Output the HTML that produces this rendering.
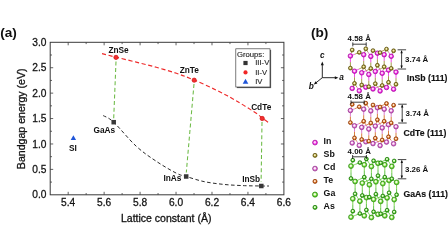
<!DOCTYPE html>
<html><head><meta charset="utf-8"><title>Bandgap vs lattice constant</title>
<style>html,body{margin:0;padding:0;background:#fff;}svg{display:block}</style></head>
<body><svg width="448" height="252" viewBox="0 0 448 252">
<rect width="448" height="252" fill="#fff"/>
<rect x="50.2" y="42.3" width="233.7" height="152.5" fill="none" stroke="#3a3a3a" stroke-width="1"/>
<path d="M68.18 194.8v-3.0M68.18 42.3v3.0M86.15 194.8v-1.8M86.15 42.3v1.8M104.13 194.8v-3.0M104.13 42.3v3.0M122.11 194.8v-1.8M122.11 42.3v1.8M140.08 194.8v-3.0M140.08 42.3v3.0M158.06 194.8v-1.8M158.06 42.3v1.8M176.04 194.8v-3.0M176.04 42.3v3.0M194.02 194.8v-1.8M194.02 42.3v1.8M211.99 194.8v-3.0M211.99 42.3v3.0M229.97 194.8v-1.8M229.97 42.3v1.8M247.95 194.8v-3.0M247.95 42.3v3.0M265.92 194.8v-1.8M265.92 42.3v1.8M50.2 182.09h1.8M283.9 182.09h-1.8M50.2 169.38h3.0M283.9 169.38h-3.0M50.2 156.68h1.8M283.9 156.68h-1.8M50.2 143.97h3.0M283.9 143.97h-3.0M50.2 131.26h1.8M283.9 131.26h-1.8M50.2 118.55h3.0M283.9 118.55h-3.0M50.2 105.84h1.8M283.9 105.84h-1.8M50.2 93.13h3.0M283.9 93.13h-3.0M50.2 80.43h1.8M283.9 80.43h-1.8M50.2 67.72h3.0M283.9 67.72h-3.0M50.2 55.01h1.8M283.9 55.01h-1.8" stroke="#3a3a3a" stroke-width="0.8" fill="none"/>
<g font-family="Liberation Sans, Arial, sans-serif" font-size="10.2" fill="#141414" stroke="#141414" stroke-width="0.28">
<text x="68.2" y="206.1" text-anchor="middle">5.4</text>
<text x="104.1" y="206.1" text-anchor="middle">5.6</text>
<text x="140.1" y="206.1" text-anchor="middle">5.8</text>
<text x="176.0" y="206.1" text-anchor="middle">6.0</text>
<text x="212.0" y="206.1" text-anchor="middle">6.2</text>
<text x="247.9" y="206.1" text-anchor="middle">6.4</text>
<text x="283.9" y="206.1" text-anchor="middle">6.6</text>
<text x="46.4" y="198.4" text-anchor="end">0.0</text>
<text x="46.4" y="173.0" text-anchor="end">0.5</text>
<text x="46.4" y="147.6" text-anchor="end">1.0</text>
<text x="46.4" y="122.2" text-anchor="end">1.5</text>
<text x="46.4" y="96.7" text-anchor="end">2.0</text>
<text x="46.4" y="71.3" text-anchor="end">2.5</text>
<text x="46.4" y="45.9" text-anchor="end">3.0</text>
</g>
<text x="166.2" y="222.3" text-anchor="middle" font-family="Liberation Sans, Arial, sans-serif" font-size="10.5" fill="#141414" stroke="#141414" stroke-width="0.3">Lattice constant (Å)</text>
<text transform="translate(24.6,118.8) rotate(-90)" text-anchor="middle" font-family="Liberation Sans, Arial, sans-serif" font-size="10.6" fill="#141414" stroke="#141414" stroke-width="0.3">Bandgap energy (eV)</text>
<text x="0.2" y="36.7" font-family="Liberation Sans, Arial, sans-serif" font-weight="bold" font-size="13.6" fill="#111">(a)</text>
<text x="311.0" y="37.1" font-family="Liberation Sans, Arial, sans-serif" font-weight="bold" font-size="13.6" fill="#111">(b)</text>
<path d="M102.0 53.6C104.3 54.2 110.3 55.8 116.0 57.2C121.7 58.6 129.5 60.4 136.2 62.1C142.9 63.8 149.6 65.4 156.3 67.3C163.0 69.2 170.1 71.2 176.4 73.3C182.7 75.4 187.3 77.2 194.0 80.0C200.7 82.8 209.4 86.7 216.5 90.2C223.6 93.7 229.9 97.1 236.6 101.0C243.3 104.9 252.5 110.8 256.7 113.6C260.9 116.4 259.9 116.4 262.0 118.0C264.1 119.6 268.2 122.3 269.5 123.2" fill="none" stroke="#ee2a2a" stroke-width="1.15" stroke-dasharray="4.2 2.6"/>
<path d="M103.2 115.6C105.0 116.7 108.2 117.1 113.7 122.2C119.2 127.3 129.1 139.7 136.2 146.2C143.3 152.7 149.6 156.8 156.3 161.3C163.0 165.8 171.4 170.7 176.4 173.2C181.4 175.7 181.5 175.1 186.2 176.5C190.9 177.9 198.1 180.4 204.5 181.7C210.9 183.0 217.9 183.8 224.6 184.5C231.3 185.2 238.6 185.4 244.7 185.7C250.8 185.9 257.2 185.9 261.3 186.0C265.4 186.1 267.7 186.0 269.0 186.0" fill="none" stroke="#2a2a2a" stroke-width="1.0" stroke-dasharray="3.6 2.4"/>
<path d="M116.0 61.5L113.7 118.5" stroke="#6cba45" stroke-width="1.05" stroke-dasharray="4 2.6" fill="none"/>
<path d="M194.0 84L186.3 172.5" stroke="#6cba45" stroke-width="1.05" stroke-dasharray="4 2.6" fill="none"/>
<path d="M262.0 122L261.1 182" stroke="#6cba45" stroke-width="1.05" stroke-dasharray="4 2.6" fill="none"/>
<circle cx="116.0" cy="57.4" r="2.15" fill="#f23030" stroke="#d01010" stroke-width="0.7"/>
<circle cx="194.2" cy="80.2" r="2.15" fill="#f23030" stroke="#d01010" stroke-width="0.7"/>
<circle cx="262.2" cy="118.5" r="2.15" fill="#f23030" stroke="#d01010" stroke-width="0.7"/>
<rect x="111.45" y="119.95" width="4.5" height="4.5" fill="#383838"/>
<rect x="183.95" y="174.25" width="4.5" height="4.5" fill="#383838"/>
<rect x="259.05" y="183.75" width="4.5" height="4.5" fill="#383838"/>
<path d="M73.4 135.3L76.10000000000001 140.1L70.7 140.1Z" fill="#1f55d8"/>
<g font-family="Liberation Sans, Arial, sans-serif" font-weight="bold" font-size="8.3" fill="#111">
<text x="118.6" y="52.5" text-anchor="middle">ZnSe</text>
<text x="189.3" y="72.9" text-anchor="middle">ZnTe</text>
<text x="261.2" y="109.8" text-anchor="middle">CdTe</text>
<text x="104.4" y="133.3" text-anchor="middle">GaAs</text>
<text x="172.5" y="181.2" text-anchor="middle">InAs</text>
<text x="251.2" y="182.1" text-anchor="middle">InSb</text>
<text x="73.0" y="151.1" text-anchor="middle">SI</text>
</g>
<rect x="236.9" y="49.9" width="34.2" height="38.2" fill="#555"/>
<rect x="235.8" y="48.8" width="34.2" height="38.2" fill="#fff" stroke="#444" stroke-width="0.7"/>
<g font-family="Liberation Sans, Arial, sans-serif" font-size="7.7" fill="#1c1c1c" stroke="#1c1c1c" stroke-width="0.12">
<text x="237.0" y="56.9">Groups:</text>
<text x="255.2" y="65.3">III-V</text>
<text x="255.2" y="74.6">II-V</text>
<text x="255.2" y="83.9">IV</text>
</g>
<rect x="243.4" y="60.9" width="4.2" height="4.2" fill="#333"/>
<circle cx="245.5" cy="72.4" r="2.1" fill="#f02626"/>
<path d="M245.5 78.8L248.3 83.7L242.7 83.7Z" fill="#1f55d8"/>
<g stroke="#111" stroke-width="0.9" fill="#111">
<path d="M322.3 77.7V63.5M322.3 77.7H336.5M322.3 77.7L315.2 83.4" fill="none"/>
<path d="M322.3 61.6L320.8 65.2H323.8Z" stroke="none"/>
<path d="M338.4 77.7L334.8 76.2V79.2Z" stroke="none"/>
<path d="M313.8 84.6L317.4 83.6L315.6 81.3Z" stroke="none"/>
</g>
<g font-family="Liberation Sans, Arial, sans-serif" font-weight="bold" font-style="italic" font-size="8.3" fill="#111" text-anchor="middle">
<text x="322.2" y="58.4">c</text><text x="341.6" y="80.2">a</text><text x="311.4" y="88.8">b</text>
</g>
<defs><radialGradient id="gIn" cx="0.46" cy="0.44" r="0.58"><stop offset="0" stop-color="#ffd6fb"/><stop offset="0.22" stop-color="#ffd6fb"/><stop offset="0.68" stop-color="#ea1cdc"/><stop offset="1" stop-color="#ea1cdc"/></radialGradient><radialGradient id="gSb" cx="0.46" cy="0.44" r="0.58"><stop offset="0" stop-color="#f4eeb8"/><stop offset="0.22" stop-color="#f4eeb8"/><stop offset="0.68" stop-color="#90801e"/><stop offset="1" stop-color="#90801e"/></radialGradient><radialGradient id="gCd" cx="0.46" cy="0.44" r="0.58"><stop offset="0" stop-color="#fff0fd"/><stop offset="0.22" stop-color="#fff0fd"/><stop offset="0.68" stop-color="#d25cc4"/><stop offset="1" stop-color="#d25cc4"/></radialGradient><radialGradient id="gTe" cx="0.46" cy="0.44" r="0.58"><stop offset="0" stop-color="#ffe6cc"/><stop offset="0.22" stop-color="#ffe6cc"/><stop offset="0.68" stop-color="#d0600e"/><stop offset="1" stop-color="#d0600e"/></radialGradient><radialGradient id="gGa" cx="0.46" cy="0.44" r="0.58"><stop offset="0" stop-color="#f2ffe0"/><stop offset="0.22" stop-color="#f2ffe0"/><stop offset="0.68" stop-color="#5ccc22"/><stop offset="1" stop-color="#5ccc22"/></radialGradient><radialGradient id="gAs" cx="0.46" cy="0.44" r="0.58"><stop offset="0" stop-color="#e6ffd0"/><stop offset="0.22" stop-color="#e6ffd0"/><stop offset="0.68" stop-color="#36b414"/><stop offset="1" stop-color="#36b414"/></radialGradient></defs>
<g><path d="M352.2 50.0L351.3 53.0" stroke="#90801e" stroke-width="0.7"/><path d="M351.3 53.0L350.4 56.0" stroke="#ea1cdc" stroke-width="0.7"/><path d="M359.3 52.4L354.9 54.2" stroke="#90801e" stroke-width="0.7"/><path d="M354.9 54.2L350.4 56.0" stroke="#ea1cdc" stroke-width="0.7"/><path d="M359.3 52.4L361.5 53.5" stroke="#90801e" stroke-width="0.7"/><path d="M361.5 53.5L363.7 54.7" stroke="#ea1cdc" stroke-width="0.7"/><path d="M365.8 48.8L364.8 51.8" stroke="#90801e" stroke-width="0.7"/><path d="M364.8 51.8L363.7 54.7" stroke="#ea1cdc" stroke-width="0.7"/><path d="M365.8 48.8L368.3 52.6" stroke="#90801e" stroke-width="0.7"/><path d="M368.3 52.6L370.8 56.4" stroke="#ea1cdc" stroke-width="0.7"/><path d="M373.0 50.6L371.9 53.5" stroke="#90801e" stroke-width="0.7"/><path d="M371.9 53.5L370.8 56.4" stroke="#ea1cdc" stroke-width="0.7"/><path d="M373.0 50.6L375.2 51.9" stroke="#90801e" stroke-width="0.7"/><path d="M375.2 51.9L377.4 53.2" stroke="#ea1cdc" stroke-width="0.7"/><path d="M380.1 52.6L378.8 52.9" stroke="#90801e" stroke-width="0.7"/><path d="M378.8 52.9L377.4 53.2" stroke="#ea1cdc" stroke-width="0.7"/><path d="M380.1 52.6L382.1 53.7" stroke="#90801e" stroke-width="0.7"/><path d="M382.1 53.7L384.2 54.7" stroke="#ea1cdc" stroke-width="0.7"/><path d="M386.5 49.1L381.9 51.2" stroke="#90801e" stroke-width="0.7"/><path d="M381.9 51.2L377.4 53.2" stroke="#ea1cdc" stroke-width="0.7"/><path d="M386.5 49.1L385.4 51.9" stroke="#90801e" stroke-width="0.7"/><path d="M385.4 51.9L384.2 54.7" stroke="#ea1cdc" stroke-width="0.7"/><path d="M386.5 49.1L388.9 52.7" stroke="#90801e" stroke-width="0.7"/><path d="M388.9 52.7L391.2 56.3" stroke="#ea1cdc" stroke-width="0.7"/><path d="M393.6 50.8L392.4 53.5" stroke="#90801e" stroke-width="0.7"/><path d="M392.4 53.5L391.2 56.3" stroke="#ea1cdc" stroke-width="0.7"/><path d="M350.4 56.0L350.4 62.1" stroke="#ea1cdc" stroke-width="0.8"/><path d="M350.4 62.1L350.4 68.1" stroke="#90801e" stroke-width="0.8"/><path d="M363.7 54.7L363.7 60.8" stroke="#ea1cdc" stroke-width="0.8"/><path d="M363.7 60.8L363.7 66.8" stroke="#90801e" stroke-width="0.8"/><path d="M370.8 56.4L370.8 62.5" stroke="#ea1cdc" stroke-width="0.8"/><path d="M370.8 62.5L370.8 68.5" stroke="#90801e" stroke-width="0.8"/><path d="M377.4 53.2L377.4 59.3" stroke="#ea1cdc" stroke-width="0.8"/><path d="M377.4 59.3L377.4 65.3" stroke="#90801e" stroke-width="0.8"/><path d="M384.2 54.7L384.2 60.8" stroke="#ea1cdc" stroke-width="0.8"/><path d="M384.2 60.8L384.2 66.8" stroke="#90801e" stroke-width="0.8"/><path d="M391.2 56.3L391.2 62.4" stroke="#ea1cdc" stroke-width="0.8"/><path d="M391.2 62.4L391.2 68.4" stroke="#90801e" stroke-width="0.8"/><path d="M350.4 68.1L352.4 69.7" stroke="#90801e" stroke-width="0.7"/><path d="M352.4 69.7L354.5 71.2" stroke="#ea1cdc" stroke-width="0.7"/><path d="M363.7 66.8L359.1 69.0" stroke="#90801e" stroke-width="0.7"/><path d="M359.1 69.0L354.5 71.2" stroke="#ea1cdc" stroke-width="0.7"/><path d="M363.7 66.8L362.7 69.8" stroke="#90801e" stroke-width="0.7"/><path d="M362.7 69.8L361.7 72.8" stroke="#ea1cdc" stroke-width="0.7"/><path d="M363.7 66.8L366.2 70.7" stroke="#90801e" stroke-width="0.7"/><path d="M366.2 70.7L368.8 74.5" stroke="#ea1cdc" stroke-width="0.7"/><path d="M370.8 68.5L366.2 70.7" stroke="#90801e" stroke-width="0.7"/><path d="M366.2 70.7L361.7 72.8" stroke="#ea1cdc" stroke-width="0.7"/><path d="M370.8 68.5L369.8 71.5" stroke="#90801e" stroke-width="0.7"/><path d="M369.8 71.5L368.8 74.5" stroke="#ea1cdc" stroke-width="0.7"/><path d="M370.8 68.5L373.1 70.0" stroke="#90801e" stroke-width="0.7"/><path d="M373.1 70.0L375.3 71.5" stroke="#ea1cdc" stroke-width="0.7"/><path d="M377.4 65.3L376.4 68.4" stroke="#90801e" stroke-width="0.7"/><path d="M376.4 68.4L375.3 71.5" stroke="#ea1cdc" stroke-width="0.7"/><path d="M377.4 65.3L379.8 69.3" stroke="#90801e" stroke-width="0.7"/><path d="M379.8 69.3L382.2 73.3" stroke="#ea1cdc" stroke-width="0.7"/><path d="M384.2 66.8L379.8 69.2" stroke="#90801e" stroke-width="0.7"/><path d="M379.8 69.2L375.3 71.5" stroke="#ea1cdc" stroke-width="0.7"/><path d="M384.2 66.8L383.2 70.1" stroke="#90801e" stroke-width="0.7"/><path d="M383.2 70.1L382.2 73.3" stroke="#ea1cdc" stroke-width="0.7"/><path d="M384.2 66.8L386.4 68.5" stroke="#90801e" stroke-width="0.7"/><path d="M386.4 68.5L388.5 70.1" stroke="#ea1cdc" stroke-width="0.7"/><path d="M391.2 68.4L386.7 70.9" stroke="#90801e" stroke-width="0.7"/><path d="M386.7 70.9L382.2 73.3" stroke="#ea1cdc" stroke-width="0.7"/><path d="M391.2 68.4L389.9 69.3" stroke="#90801e" stroke-width="0.7"/><path d="M389.9 69.3L388.5 70.1" stroke="#ea1cdc" stroke-width="0.7"/><path d="M391.2 68.4L393.6 70.3" stroke="#90801e" stroke-width="0.7"/><path d="M393.6 70.3L396.0 72.1" stroke="#ea1cdc" stroke-width="0.7"/><path d="M354.5 71.2L354.5 77.3" stroke="#ea1cdc" stroke-width="0.8"/><path d="M354.5 77.3L354.5 83.4" stroke="#90801e" stroke-width="0.8"/><path d="M361.7 72.8L361.7 78.9" stroke="#ea1cdc" stroke-width="0.8"/><path d="M361.7 78.9L361.7 85.0" stroke="#90801e" stroke-width="0.8"/><path d="M368.8 74.5L368.8 80.6" stroke="#ea1cdc" stroke-width="0.8"/><path d="M368.8 80.6L368.8 86.7" stroke="#90801e" stroke-width="0.8"/><path d="M375.3 71.5L375.3 77.6" stroke="#ea1cdc" stroke-width="0.8"/><path d="M375.3 77.6L375.3 83.7" stroke="#90801e" stroke-width="0.8"/><path d="M382.2 73.3L382.2 79.4" stroke="#ea1cdc" stroke-width="0.8"/><path d="M382.2 79.4L382.2 85.5" stroke="#90801e" stroke-width="0.8"/><path d="M388.5 70.1L388.5 76.2" stroke="#ea1cdc" stroke-width="0.8"/><path d="M388.5 76.2L388.5 82.3" stroke="#90801e" stroke-width="0.8"/><path d="M396.0 72.1L396.0 78.2" stroke="#ea1cdc" stroke-width="0.8"/><path d="M396.0 78.2L396.0 84.3" stroke="#90801e" stroke-width="0.8"/><path d="M354.5 83.4L353.4 85.9" stroke="#90801e" stroke-width="0.7"/><path d="M353.4 85.9L352.2 88.4" stroke="#ea1cdc" stroke-width="0.7"/><path d="M354.5 83.4L356.9 87.1" stroke="#90801e" stroke-width="0.7"/><path d="M356.9 87.1L359.3 90.8" stroke="#ea1cdc" stroke-width="0.7"/><path d="M361.7 85.0L360.5 87.9" stroke="#90801e" stroke-width="0.7"/><path d="M360.5 87.9L359.3 90.8" stroke="#ea1cdc" stroke-width="0.7"/><path d="M361.7 85.0L363.8 86.1" stroke="#90801e" stroke-width="0.7"/><path d="M363.8 86.1L365.8 87.2" stroke="#ea1cdc" stroke-width="0.7"/><path d="M368.8 86.7L367.3 87.0" stroke="#90801e" stroke-width="0.7"/><path d="M367.3 87.0L365.8 87.2" stroke="#ea1cdc" stroke-width="0.7"/><path d="M368.8 86.7L370.9 87.8" stroke="#90801e" stroke-width="0.7"/><path d="M370.9 87.8L373.0 89.0" stroke="#ea1cdc" stroke-width="0.7"/><path d="M375.3 83.7L374.1 86.3" stroke="#90801e" stroke-width="0.7"/><path d="M374.1 86.3L373.0 89.0" stroke="#ea1cdc" stroke-width="0.7"/><path d="M375.3 83.7L377.7 87.3" stroke="#90801e" stroke-width="0.7"/><path d="M377.7 87.3L380.1 91.0" stroke="#ea1cdc" stroke-width="0.7"/><path d="M382.2 85.5L377.6 87.2" stroke="#90801e" stroke-width="0.7"/><path d="M377.6 87.2L373.0 89.0" stroke="#ea1cdc" stroke-width="0.7"/><path d="M382.2 85.5L381.1 88.2" stroke="#90801e" stroke-width="0.7"/><path d="M381.1 88.2L380.1 91.0" stroke="#ea1cdc" stroke-width="0.7"/><path d="M382.2 85.5L384.4 86.5" stroke="#90801e" stroke-width="0.7"/><path d="M384.4 86.5L386.5 87.5" stroke="#ea1cdc" stroke-width="0.7"/><path d="M388.5 82.3L387.5 84.9" stroke="#90801e" stroke-width="0.7"/><path d="M387.5 84.9L386.5 87.5" stroke="#ea1cdc" stroke-width="0.7"/><path d="M388.5 82.3L391.1 85.8" stroke="#90801e" stroke-width="0.7"/><path d="M391.1 85.8L393.6 89.2" stroke="#ea1cdc" stroke-width="0.7"/><path d="M396.0 84.3L394.8 86.8" stroke="#90801e" stroke-width="0.7"/><path d="M394.8 86.8L393.6 89.2" stroke="#ea1cdc" stroke-width="0.7"/><circle cx="377.4" cy="53.2" r="2.30" fill="url(#gIn)" stroke="#a40a9c" stroke-width="0.7"/><circle cx="365.8" cy="48.8" r="1.95" fill="url(#gSb)" stroke="#5a4e0c" stroke-width="0.7"/><circle cx="386.5" cy="49.1" r="1.95" fill="url(#gSb)" stroke="#5a4e0c" stroke-width="0.7"/><circle cx="352.2" cy="50.0" r="1.95" fill="url(#gSb)" stroke="#5a4e0c" stroke-width="0.7"/><circle cx="363.7" cy="54.7" r="2.30" fill="url(#gIn)" stroke="#a40a9c" stroke-width="0.7"/><circle cx="384.2" cy="54.7" r="2.30" fill="url(#gIn)" stroke="#a40a9c" stroke-width="0.7"/><circle cx="373.0" cy="50.6" r="1.95" fill="url(#gSb)" stroke="#5a4e0c" stroke-width="0.7"/><circle cx="393.6" cy="50.8" r="1.95" fill="url(#gSb)" stroke="#5a4e0c" stroke-width="0.7"/><circle cx="350.4" cy="56.0" r="2.30" fill="url(#gIn)" stroke="#a40a9c" stroke-width="0.7"/><circle cx="391.2" cy="56.3" r="2.30" fill="url(#gIn)" stroke="#a40a9c" stroke-width="0.7"/><circle cx="370.8" cy="56.4" r="2.30" fill="url(#gIn)" stroke="#a40a9c" stroke-width="0.7"/><circle cx="359.3" cy="52.4" r="1.95" fill="url(#gSb)" stroke="#5a4e0c" stroke-width="0.7"/><circle cx="380.1" cy="52.6" r="1.95" fill="url(#gSb)" stroke="#5a4e0c" stroke-width="0.7"/><circle cx="377.4" cy="65.3" r="1.95" fill="url(#gSb)" stroke="#5a4e0c" stroke-width="0.7"/><circle cx="388.5" cy="70.1" r="2.30" fill="url(#gIn)" stroke="#a40a9c" stroke-width="0.7"/><circle cx="354.5" cy="71.2" r="2.30" fill="url(#gIn)" stroke="#a40a9c" stroke-width="0.7"/><circle cx="363.7" cy="66.8" r="1.95" fill="url(#gSb)" stroke="#5a4e0c" stroke-width="0.7"/><circle cx="384.2" cy="66.8" r="1.95" fill="url(#gSb)" stroke="#5a4e0c" stroke-width="0.7"/><circle cx="375.3" cy="71.5" r="2.30" fill="url(#gIn)" stroke="#a40a9c" stroke-width="0.7"/><circle cx="396.0" cy="72.1" r="2.30" fill="url(#gIn)" stroke="#a40a9c" stroke-width="0.7"/><circle cx="350.4" cy="68.1" r="1.95" fill="url(#gSb)" stroke="#5a4e0c" stroke-width="0.7"/><circle cx="361.7" cy="72.8" r="2.30" fill="url(#gIn)" stroke="#a40a9c" stroke-width="0.7"/><circle cx="391.2" cy="68.4" r="1.95" fill="url(#gSb)" stroke="#5a4e0c" stroke-width="0.7"/><circle cx="370.8" cy="68.5" r="1.95" fill="url(#gSb)" stroke="#5a4e0c" stroke-width="0.7"/><circle cx="382.2" cy="73.3" r="2.30" fill="url(#gIn)" stroke="#a40a9c" stroke-width="0.7"/><circle cx="368.8" cy="74.5" r="2.30" fill="url(#gIn)" stroke="#a40a9c" stroke-width="0.7"/><circle cx="388.5" cy="82.3" r="1.95" fill="url(#gSb)" stroke="#5a4e0c" stroke-width="0.7"/><circle cx="365.8" cy="87.2" r="2.30" fill="url(#gIn)" stroke="#a40a9c" stroke-width="0.7"/><circle cx="386.5" cy="87.5" r="2.30" fill="url(#gIn)" stroke="#a40a9c" stroke-width="0.7"/><circle cx="354.5" cy="83.4" r="1.95" fill="url(#gSb)" stroke="#5a4e0c" stroke-width="0.7"/><circle cx="375.3" cy="83.7" r="1.95" fill="url(#gSb)" stroke="#5a4e0c" stroke-width="0.7"/><circle cx="352.2" cy="88.4" r="2.30" fill="url(#gIn)" stroke="#a40a9c" stroke-width="0.7"/><circle cx="396.0" cy="84.3" r="1.95" fill="url(#gSb)" stroke="#5a4e0c" stroke-width="0.7"/><circle cx="373.0" cy="89.0" r="2.30" fill="url(#gIn)" stroke="#a40a9c" stroke-width="0.7"/><circle cx="393.6" cy="89.2" r="2.30" fill="url(#gIn)" stroke="#a40a9c" stroke-width="0.7"/><circle cx="361.7" cy="85.0" r="1.95" fill="url(#gSb)" stroke="#5a4e0c" stroke-width="0.7"/><circle cx="382.2" cy="85.5" r="1.95" fill="url(#gSb)" stroke="#5a4e0c" stroke-width="0.7"/><circle cx="359.3" cy="90.8" r="2.30" fill="url(#gIn)" stroke="#a40a9c" stroke-width="0.7"/><circle cx="380.1" cy="91.0" r="2.30" fill="url(#gIn)" stroke="#a40a9c" stroke-width="0.7"/><circle cx="368.8" cy="86.7" r="1.95" fill="url(#gSb)" stroke="#5a4e0c" stroke-width="0.7"/></g>
<g><path d="M352.2 104.4L351.3 107.5" stroke="#d0600e" stroke-width="0.7"/><path d="M351.3 107.5L350.4 110.5" stroke="#d25cc4" stroke-width="0.7"/><path d="M359.3 106.8L354.9 108.7" stroke="#d0600e" stroke-width="0.7"/><path d="M354.9 108.7L350.4 110.5" stroke="#d25cc4" stroke-width="0.7"/><path d="M359.3 106.8L361.5 108.0" stroke="#d0600e" stroke-width="0.7"/><path d="M361.5 108.0L363.7 109.2" stroke="#d25cc4" stroke-width="0.7"/><path d="M365.8 103.2L364.8 106.2" stroke="#d0600e" stroke-width="0.7"/><path d="M364.8 106.2L363.7 109.2" stroke="#d25cc4" stroke-width="0.7"/><path d="M365.8 103.2L368.3 107.1" stroke="#d0600e" stroke-width="0.7"/><path d="M368.3 107.1L370.8 110.9" stroke="#d25cc4" stroke-width="0.7"/><path d="M373.0 105.0L371.9 108.0" stroke="#d0600e" stroke-width="0.7"/><path d="M371.9 108.0L370.8 110.9" stroke="#d25cc4" stroke-width="0.7"/><path d="M373.0 105.0L375.2 106.3" stroke="#d0600e" stroke-width="0.7"/><path d="M375.2 106.3L377.4 107.7" stroke="#d25cc4" stroke-width="0.7"/><path d="M380.1 107.0L378.8 107.3" stroke="#d0600e" stroke-width="0.7"/><path d="M378.8 107.3L377.4 107.7" stroke="#d25cc4" stroke-width="0.7"/><path d="M380.1 107.0L382.1 108.1" stroke="#d0600e" stroke-width="0.7"/><path d="M382.1 108.1L384.2 109.2" stroke="#d25cc4" stroke-width="0.7"/><path d="M386.5 103.5L381.9 105.6" stroke="#d0600e" stroke-width="0.7"/><path d="M381.9 105.6L377.4 107.7" stroke="#d25cc4" stroke-width="0.7"/><path d="M386.5 103.5L385.4 106.3" stroke="#d0600e" stroke-width="0.7"/><path d="M385.4 106.3L384.2 109.2" stroke="#d25cc4" stroke-width="0.7"/><path d="M386.5 103.5L388.9 107.2" stroke="#d0600e" stroke-width="0.7"/><path d="M388.9 107.2L391.2 110.8" stroke="#d25cc4" stroke-width="0.7"/><path d="M393.6 105.2L392.4 108.0" stroke="#d0600e" stroke-width="0.7"/><path d="M392.4 108.0L391.2 110.8" stroke="#d25cc4" stroke-width="0.7"/><path d="M350.4 110.5L350.4 116.6" stroke="#d25cc4" stroke-width="0.8"/><path d="M350.4 116.6L350.4 122.6" stroke="#d0600e" stroke-width="0.8"/><path d="M363.7 109.2L363.7 115.2" stroke="#d25cc4" stroke-width="0.8"/><path d="M363.7 115.2L363.7 121.3" stroke="#d0600e" stroke-width="0.8"/><path d="M370.8 110.9L370.8 117.0" stroke="#d25cc4" stroke-width="0.8"/><path d="M370.8 117.0L370.8 123.0" stroke="#d0600e" stroke-width="0.8"/><path d="M377.4 107.7L377.4 113.8" stroke="#d25cc4" stroke-width="0.8"/><path d="M377.4 113.8L377.4 119.8" stroke="#d0600e" stroke-width="0.8"/><path d="M384.2 109.2L384.2 115.2" stroke="#d25cc4" stroke-width="0.8"/><path d="M384.2 115.2L384.2 121.3" stroke="#d0600e" stroke-width="0.8"/><path d="M391.2 110.8L391.2 116.8" stroke="#d25cc4" stroke-width="0.8"/><path d="M391.2 116.8L391.2 122.9" stroke="#d0600e" stroke-width="0.8"/><path d="M350.4 122.6L352.4 124.2" stroke="#d0600e" stroke-width="0.7"/><path d="M352.4 124.2L354.5 125.8" stroke="#d25cc4" stroke-width="0.7"/><path d="M363.7 121.3L359.1 123.6" stroke="#d0600e" stroke-width="0.7"/><path d="M359.1 123.6L354.5 125.8" stroke="#d25cc4" stroke-width="0.7"/><path d="M363.7 121.3L362.7 124.4" stroke="#d0600e" stroke-width="0.7"/><path d="M362.7 124.4L361.7 127.4" stroke="#d25cc4" stroke-width="0.7"/><path d="M363.7 121.3L366.2 125.2" stroke="#d0600e" stroke-width="0.7"/><path d="M366.2 125.2L368.8 129.1" stroke="#d25cc4" stroke-width="0.7"/><path d="M370.8 123.0L366.2 125.2" stroke="#d0600e" stroke-width="0.7"/><path d="M366.2 125.2L361.7 127.4" stroke="#d25cc4" stroke-width="0.7"/><path d="M370.8 123.0L369.8 126.1" stroke="#d0600e" stroke-width="0.7"/><path d="M369.8 126.1L368.8 129.1" stroke="#d25cc4" stroke-width="0.7"/><path d="M370.8 123.0L373.1 124.6" stroke="#d0600e" stroke-width="0.7"/><path d="M373.1 124.6L375.3 126.1" stroke="#d25cc4" stroke-width="0.7"/><path d="M377.4 119.8L376.4 123.0" stroke="#d0600e" stroke-width="0.7"/><path d="M376.4 123.0L375.3 126.1" stroke="#d25cc4" stroke-width="0.7"/><path d="M377.4 119.8L379.8 123.9" stroke="#d0600e" stroke-width="0.7"/><path d="M379.8 123.9L382.2 127.9" stroke="#d25cc4" stroke-width="0.7"/><path d="M384.2 121.3L379.8 123.7" stroke="#d0600e" stroke-width="0.7"/><path d="M379.8 123.7L375.3 126.1" stroke="#d25cc4" stroke-width="0.7"/><path d="M384.2 121.3L383.2 124.6" stroke="#d0600e" stroke-width="0.7"/><path d="M383.2 124.6L382.2 127.9" stroke="#d25cc4" stroke-width="0.7"/><path d="M384.2 121.3L386.4 123.0" stroke="#d0600e" stroke-width="0.7"/><path d="M386.4 123.0L388.5 124.7" stroke="#d25cc4" stroke-width="0.7"/><path d="M391.2 122.9L386.7 125.4" stroke="#d0600e" stroke-width="0.7"/><path d="M386.7 125.4L382.2 127.9" stroke="#d25cc4" stroke-width="0.7"/><path d="M391.2 122.9L389.9 123.8" stroke="#d0600e" stroke-width="0.7"/><path d="M389.9 123.8L388.5 124.7" stroke="#d25cc4" stroke-width="0.7"/><path d="M391.2 122.9L393.6 124.8" stroke="#d0600e" stroke-width="0.7"/><path d="M393.6 124.8L396.0 126.7" stroke="#d25cc4" stroke-width="0.7"/><path d="M354.5 125.8L354.5 131.8" stroke="#d25cc4" stroke-width="0.8"/><path d="M354.5 131.8L354.5 137.9" stroke="#d0600e" stroke-width="0.8"/><path d="M361.7 127.4L361.7 133.4" stroke="#d25cc4" stroke-width="0.8"/><path d="M361.7 133.4L361.7 139.5" stroke="#d0600e" stroke-width="0.8"/><path d="M368.8 129.1L368.8 135.2" stroke="#d25cc4" stroke-width="0.8"/><path d="M368.8 135.2L368.8 141.2" stroke="#d0600e" stroke-width="0.8"/><path d="M375.3 126.1L375.3 132.2" stroke="#d25cc4" stroke-width="0.8"/><path d="M375.3 132.2L375.3 138.2" stroke="#d0600e" stroke-width="0.8"/><path d="M382.2 127.9L382.2 133.9" stroke="#d25cc4" stroke-width="0.8"/><path d="M382.2 133.9L382.2 140.0" stroke="#d0600e" stroke-width="0.8"/><path d="M388.5 124.7L388.5 130.8" stroke="#d25cc4" stroke-width="0.8"/><path d="M388.5 130.8L388.5 136.8" stroke="#d0600e" stroke-width="0.8"/><path d="M396.0 126.7L396.0 132.8" stroke="#d25cc4" stroke-width="0.8"/><path d="M396.0 132.8L396.0 138.8" stroke="#d0600e" stroke-width="0.8"/><path d="M354.5 137.9L353.4 140.4" stroke="#d0600e" stroke-width="0.7"/><path d="M353.4 140.4L352.2 143.0" stroke="#d25cc4" stroke-width="0.7"/><path d="M354.5 137.9L356.9 141.6" stroke="#d0600e" stroke-width="0.7"/><path d="M356.9 141.6L359.3 145.4" stroke="#d25cc4" stroke-width="0.7"/><path d="M361.7 139.5L360.5 142.4" stroke="#d0600e" stroke-width="0.7"/><path d="M360.5 142.4L359.3 145.4" stroke="#d25cc4" stroke-width="0.7"/><path d="M361.7 139.5L363.8 140.7" stroke="#d0600e" stroke-width="0.7"/><path d="M363.8 140.7L365.8 141.8" stroke="#d25cc4" stroke-width="0.7"/><path d="M368.8 141.2L367.3 141.5" stroke="#d0600e" stroke-width="0.7"/><path d="M367.3 141.5L365.8 141.8" stroke="#d25cc4" stroke-width="0.7"/><path d="M368.8 141.2L370.9 142.4" stroke="#d0600e" stroke-width="0.7"/><path d="M370.9 142.4L373.0 143.6" stroke="#d25cc4" stroke-width="0.7"/><path d="M375.3 138.2L374.1 140.9" stroke="#d0600e" stroke-width="0.7"/><path d="M374.1 140.9L373.0 143.6" stroke="#d25cc4" stroke-width="0.7"/><path d="M375.3 138.2L377.7 141.9" stroke="#d0600e" stroke-width="0.7"/><path d="M377.7 141.9L380.1 145.6" stroke="#d25cc4" stroke-width="0.7"/><path d="M382.2 140.0L377.6 141.8" stroke="#d0600e" stroke-width="0.7"/><path d="M377.6 141.8L373.0 143.6" stroke="#d25cc4" stroke-width="0.7"/><path d="M382.2 140.0L381.1 142.8" stroke="#d0600e" stroke-width="0.7"/><path d="M381.1 142.8L380.1 145.6" stroke="#d25cc4" stroke-width="0.7"/><path d="M382.2 140.0L384.4 141.1" stroke="#d0600e" stroke-width="0.7"/><path d="M384.4 141.1L386.5 142.1" stroke="#d25cc4" stroke-width="0.7"/><path d="M388.5 136.8L387.5 139.4" stroke="#d0600e" stroke-width="0.7"/><path d="M387.5 139.4L386.5 142.1" stroke="#d25cc4" stroke-width="0.7"/><path d="M388.5 136.8L391.1 140.3" stroke="#d0600e" stroke-width="0.7"/><path d="M391.1 140.3L393.6 143.8" stroke="#d25cc4" stroke-width="0.7"/><path d="M396.0 138.8L394.8 141.3" stroke="#d0600e" stroke-width="0.7"/><path d="M394.8 141.3L393.6 143.8" stroke="#d25cc4" stroke-width="0.7"/><circle cx="377.4" cy="107.7" r="2.30" fill="url(#gCd)" stroke="#8e2e86" stroke-width="0.7"/><circle cx="365.8" cy="103.2" r="1.95" fill="url(#gTe)" stroke="#8a3404" stroke-width="0.7"/><circle cx="386.5" cy="103.5" r="1.95" fill="url(#gTe)" stroke="#8a3404" stroke-width="0.7"/><circle cx="352.2" cy="104.4" r="1.95" fill="url(#gTe)" stroke="#8a3404" stroke-width="0.7"/><circle cx="363.7" cy="109.2" r="2.30" fill="url(#gCd)" stroke="#8e2e86" stroke-width="0.7"/><circle cx="384.2" cy="109.2" r="2.30" fill="url(#gCd)" stroke="#8e2e86" stroke-width="0.7"/><circle cx="373.0" cy="105.0" r="1.95" fill="url(#gTe)" stroke="#8a3404" stroke-width="0.7"/><circle cx="393.6" cy="105.2" r="1.95" fill="url(#gTe)" stroke="#8a3404" stroke-width="0.7"/><circle cx="350.4" cy="110.5" r="2.30" fill="url(#gCd)" stroke="#8e2e86" stroke-width="0.7"/><circle cx="391.2" cy="110.8" r="2.30" fill="url(#gCd)" stroke="#8e2e86" stroke-width="0.7"/><circle cx="370.8" cy="110.9" r="2.30" fill="url(#gCd)" stroke="#8e2e86" stroke-width="0.7"/><circle cx="359.3" cy="106.8" r="1.95" fill="url(#gTe)" stroke="#8a3404" stroke-width="0.7"/><circle cx="380.1" cy="107.0" r="1.95" fill="url(#gTe)" stroke="#8a3404" stroke-width="0.7"/><circle cx="377.4" cy="119.8" r="1.95" fill="url(#gTe)" stroke="#8a3404" stroke-width="0.7"/><circle cx="388.5" cy="124.7" r="2.30" fill="url(#gCd)" stroke="#8e2e86" stroke-width="0.7"/><circle cx="354.5" cy="125.8" r="2.30" fill="url(#gCd)" stroke="#8e2e86" stroke-width="0.7"/><circle cx="363.7" cy="121.3" r="1.95" fill="url(#gTe)" stroke="#8a3404" stroke-width="0.7"/><circle cx="384.2" cy="121.3" r="1.95" fill="url(#gTe)" stroke="#8a3404" stroke-width="0.7"/><circle cx="375.3" cy="126.1" r="2.30" fill="url(#gCd)" stroke="#8e2e86" stroke-width="0.7"/><circle cx="396.0" cy="126.7" r="2.30" fill="url(#gCd)" stroke="#8e2e86" stroke-width="0.7"/><circle cx="350.4" cy="122.6" r="1.95" fill="url(#gTe)" stroke="#8a3404" stroke-width="0.7"/><circle cx="361.7" cy="127.4" r="2.30" fill="url(#gCd)" stroke="#8e2e86" stroke-width="0.7"/><circle cx="391.2" cy="122.9" r="1.95" fill="url(#gTe)" stroke="#8a3404" stroke-width="0.7"/><circle cx="370.8" cy="123.0" r="1.95" fill="url(#gTe)" stroke="#8a3404" stroke-width="0.7"/><circle cx="382.2" cy="127.9" r="2.30" fill="url(#gCd)" stroke="#8e2e86" stroke-width="0.7"/><circle cx="368.8" cy="129.1" r="2.30" fill="url(#gCd)" stroke="#8e2e86" stroke-width="0.7"/><circle cx="388.5" cy="136.8" r="1.95" fill="url(#gTe)" stroke="#8a3404" stroke-width="0.7"/><circle cx="365.8" cy="141.8" r="2.30" fill="url(#gCd)" stroke="#8e2e86" stroke-width="0.7"/><circle cx="386.5" cy="142.1" r="2.30" fill="url(#gCd)" stroke="#8e2e86" stroke-width="0.7"/><circle cx="354.5" cy="137.9" r="1.95" fill="url(#gTe)" stroke="#8a3404" stroke-width="0.7"/><circle cx="375.3" cy="138.2" r="1.95" fill="url(#gTe)" stroke="#8a3404" stroke-width="0.7"/><circle cx="352.2" cy="143.0" r="2.30" fill="url(#gCd)" stroke="#8e2e86" stroke-width="0.7"/><circle cx="396.0" cy="138.8" r="1.95" fill="url(#gTe)" stroke="#8a3404" stroke-width="0.7"/><circle cx="373.0" cy="143.6" r="2.30" fill="url(#gCd)" stroke="#8e2e86" stroke-width="0.7"/><circle cx="393.6" cy="143.8" r="2.30" fill="url(#gCd)" stroke="#8e2e86" stroke-width="0.7"/><circle cx="361.7" cy="139.5" r="1.95" fill="url(#gTe)" stroke="#8a3404" stroke-width="0.7"/><circle cx="382.2" cy="140.0" r="1.95" fill="url(#gTe)" stroke="#8a3404" stroke-width="0.7"/><circle cx="359.3" cy="145.4" r="2.30" fill="url(#gCd)" stroke="#8e2e86" stroke-width="0.7"/><circle cx="380.1" cy="145.6" r="2.30" fill="url(#gCd)" stroke="#8e2e86" stroke-width="0.7"/><circle cx="368.8" cy="141.2" r="1.95" fill="url(#gTe)" stroke="#8a3404" stroke-width="0.7"/></g>
<g><path d="M352.8 160.2L351.9 163.1" stroke="#36b414" stroke-width="0.7"/><path d="M351.9 163.1L351.0 166.1" stroke="#5ccc22" stroke-width="0.7"/><path d="M359.9 162.6L355.5 164.3" stroke="#36b414" stroke-width="0.7"/><path d="M355.5 164.3L351.0 166.1" stroke="#5ccc22" stroke-width="0.7"/><path d="M359.9 162.6L362.1 163.7" stroke="#36b414" stroke-width="0.7"/><path d="M362.1 163.7L364.3 164.8" stroke="#5ccc22" stroke-width="0.7"/><path d="M366.4 159.0L365.4 161.9" stroke="#36b414" stroke-width="0.7"/><path d="M365.4 161.9L364.3 164.8" stroke="#5ccc22" stroke-width="0.7"/><path d="M366.4 159.0L368.9 162.8" stroke="#36b414" stroke-width="0.7"/><path d="M368.9 162.8L371.4 166.5" stroke="#5ccc22" stroke-width="0.7"/><path d="M373.6 160.8L372.5 163.6" stroke="#36b414" stroke-width="0.7"/><path d="M372.5 163.6L371.4 166.5" stroke="#5ccc22" stroke-width="0.7"/><path d="M373.6 160.8L375.8 162.0" stroke="#36b414" stroke-width="0.7"/><path d="M375.8 162.0L378.0 163.3" stroke="#5ccc22" stroke-width="0.7"/><path d="M380.7 162.8L379.4 163.0" stroke="#36b414" stroke-width="0.7"/><path d="M379.4 163.0L378.0 163.3" stroke="#5ccc22" stroke-width="0.7"/><path d="M380.7 162.8L382.8 163.8" stroke="#36b414" stroke-width="0.7"/><path d="M382.8 163.8L384.8 164.8" stroke="#5ccc22" stroke-width="0.7"/><path d="M387.1 159.3L382.6 161.3" stroke="#36b414" stroke-width="0.7"/><path d="M382.6 161.3L378.0 163.3" stroke="#5ccc22" stroke-width="0.7"/><path d="M387.1 159.3L386.0 162.0" stroke="#36b414" stroke-width="0.7"/><path d="M386.0 162.0L384.8 164.8" stroke="#5ccc22" stroke-width="0.7"/><path d="M387.1 159.3L389.5 162.8" stroke="#36b414" stroke-width="0.7"/><path d="M389.5 162.8L391.8 166.4" stroke="#5ccc22" stroke-width="0.7"/><path d="M394.2 161.0L393.0 163.7" stroke="#36b414" stroke-width="0.7"/><path d="M393.0 163.7L391.8 166.4" stroke="#5ccc22" stroke-width="0.7"/><path d="M351.0 166.1L351.0 172.3" stroke="#5ccc22" stroke-width="0.8"/><path d="M351.0 172.3L351.0 178.5" stroke="#36b414" stroke-width="0.8"/><path d="M364.3 164.8L364.3 171.0" stroke="#5ccc22" stroke-width="0.8"/><path d="M364.3 171.0L364.3 177.2" stroke="#36b414" stroke-width="0.8"/><path d="M371.4 166.5L371.4 172.7" stroke="#5ccc22" stroke-width="0.8"/><path d="M371.4 172.7L371.4 178.9" stroke="#36b414" stroke-width="0.8"/><path d="M378.0 163.3L378.0 169.5" stroke="#5ccc22" stroke-width="0.8"/><path d="M378.0 169.5L378.0 175.7" stroke="#36b414" stroke-width="0.8"/><path d="M384.8 164.8L384.8 171.0" stroke="#5ccc22" stroke-width="0.8"/><path d="M384.8 171.0L384.8 177.2" stroke="#36b414" stroke-width="0.8"/><path d="M391.8 166.4L391.8 172.6" stroke="#5ccc22" stroke-width="0.8"/><path d="M391.8 172.6L391.8 178.8" stroke="#36b414" stroke-width="0.8"/><path d="M351.0 178.5L353.1 180.0" stroke="#36b414" stroke-width="0.7"/><path d="M353.1 180.0L355.1 181.5" stroke="#5ccc22" stroke-width="0.7"/><path d="M364.3 177.2L359.7 179.3" stroke="#36b414" stroke-width="0.7"/><path d="M359.7 179.3L355.1 181.5" stroke="#5ccc22" stroke-width="0.7"/><path d="M364.3 177.2L363.3 180.1" stroke="#36b414" stroke-width="0.7"/><path d="M363.3 180.1L362.3 183.1" stroke="#5ccc22" stroke-width="0.7"/><path d="M364.3 177.2L366.9 181.0" stroke="#36b414" stroke-width="0.7"/><path d="M366.9 181.0L369.4 184.8" stroke="#5ccc22" stroke-width="0.7"/><path d="M371.4 178.9L366.9 181.0" stroke="#36b414" stroke-width="0.7"/><path d="M366.9 181.0L362.3 183.1" stroke="#5ccc22" stroke-width="0.7"/><path d="M371.4 178.9L370.4 181.8" stroke="#36b414" stroke-width="0.7"/><path d="M370.4 181.8L369.4 184.8" stroke="#5ccc22" stroke-width="0.7"/><path d="M371.4 178.9L373.7 180.3" stroke="#36b414" stroke-width="0.7"/><path d="M373.7 180.3L375.9 181.8" stroke="#5ccc22" stroke-width="0.7"/><path d="M378.0 175.7L377.0 178.8" stroke="#36b414" stroke-width="0.7"/><path d="M377.0 178.8L375.9 181.8" stroke="#5ccc22" stroke-width="0.7"/><path d="M378.0 175.7L380.4 179.6" stroke="#36b414" stroke-width="0.7"/><path d="M380.4 179.6L382.8 183.6" stroke="#5ccc22" stroke-width="0.7"/><path d="M384.8 177.2L380.4 179.5" stroke="#36b414" stroke-width="0.7"/><path d="M380.4 179.5L375.9 181.8" stroke="#5ccc22" stroke-width="0.7"/><path d="M384.8 177.2L383.8 180.4" stroke="#36b414" stroke-width="0.7"/><path d="M383.8 180.4L382.8 183.6" stroke="#5ccc22" stroke-width="0.7"/><path d="M384.8 177.2L387.0 178.8" stroke="#36b414" stroke-width="0.7"/><path d="M387.0 178.8L389.1 180.4" stroke="#5ccc22" stroke-width="0.7"/><path d="M391.8 178.8L387.3 181.2" stroke="#36b414" stroke-width="0.7"/><path d="M387.3 181.2L382.8 183.6" stroke="#5ccc22" stroke-width="0.7"/><path d="M391.8 178.8L390.5 179.6" stroke="#36b414" stroke-width="0.7"/><path d="M390.5 179.6L389.1 180.4" stroke="#5ccc22" stroke-width="0.7"/><path d="M391.8 178.8L394.2 180.6" stroke="#36b414" stroke-width="0.7"/><path d="M394.2 180.6L396.6 182.4" stroke="#5ccc22" stroke-width="0.7"/><path d="M355.1 181.5L355.1 187.7" stroke="#5ccc22" stroke-width="0.8"/><path d="M355.1 187.7L355.1 193.9" stroke="#36b414" stroke-width="0.8"/><path d="M362.3 183.1L362.3 189.3" stroke="#5ccc22" stroke-width="0.8"/><path d="M362.3 189.3L362.3 195.5" stroke="#36b414" stroke-width="0.8"/><path d="M369.4 184.8L369.4 191.0" stroke="#5ccc22" stroke-width="0.8"/><path d="M369.4 191.0L369.4 197.2" stroke="#36b414" stroke-width="0.8"/><path d="M375.9 181.8L375.9 188.0" stroke="#5ccc22" stroke-width="0.8"/><path d="M375.9 188.0L375.9 194.2" stroke="#36b414" stroke-width="0.8"/><path d="M382.8 183.6L382.8 189.8" stroke="#5ccc22" stroke-width="0.8"/><path d="M382.8 189.8L382.8 196.0" stroke="#36b414" stroke-width="0.8"/><path d="M389.1 180.4L389.1 186.6" stroke="#5ccc22" stroke-width="0.8"/><path d="M389.1 186.6L389.1 192.8" stroke="#36b414" stroke-width="0.8"/><path d="M396.6 182.4L396.6 188.6" stroke="#5ccc22" stroke-width="0.8"/><path d="M396.6 188.6L396.6 194.8" stroke="#36b414" stroke-width="0.8"/><path d="M355.1 193.9L354.0 196.3" stroke="#36b414" stroke-width="0.7"/><path d="M354.0 196.3L352.8 198.8" stroke="#5ccc22" stroke-width="0.7"/><path d="M355.1 193.9L357.5 197.5" stroke="#36b414" stroke-width="0.7"/><path d="M357.5 197.5L359.9 201.2" stroke="#5ccc22" stroke-width="0.7"/><path d="M362.3 195.5L361.1 198.3" stroke="#36b414" stroke-width="0.7"/><path d="M361.1 198.3L359.9 201.2" stroke="#5ccc22" stroke-width="0.7"/><path d="M362.3 195.5L364.4 196.6" stroke="#36b414" stroke-width="0.7"/><path d="M364.4 196.6L366.4 197.6" stroke="#5ccc22" stroke-width="0.7"/><path d="M369.4 197.2L367.9 197.4" stroke="#36b414" stroke-width="0.7"/><path d="M367.9 197.4L366.4 197.6" stroke="#5ccc22" stroke-width="0.7"/><path d="M369.4 197.2L371.5 198.3" stroke="#36b414" stroke-width="0.7"/><path d="M371.5 198.3L373.6 199.4" stroke="#5ccc22" stroke-width="0.7"/><path d="M375.9 194.2L374.8 196.8" stroke="#36b414" stroke-width="0.7"/><path d="M374.8 196.8L373.6 199.4" stroke="#5ccc22" stroke-width="0.7"/><path d="M375.9 194.2L378.3 197.8" stroke="#36b414" stroke-width="0.7"/><path d="M378.3 197.8L380.7 201.4" stroke="#5ccc22" stroke-width="0.7"/><path d="M382.8 196.0L378.2 197.7" stroke="#36b414" stroke-width="0.7"/><path d="M378.2 197.7L373.6 199.4" stroke="#5ccc22" stroke-width="0.7"/><path d="M382.8 196.0L381.8 198.7" stroke="#36b414" stroke-width="0.7"/><path d="M381.8 198.7L380.7 201.4" stroke="#5ccc22" stroke-width="0.7"/><path d="M382.8 196.0L385.0 196.9" stroke="#36b414" stroke-width="0.7"/><path d="M385.0 196.9L387.1 197.9" stroke="#5ccc22" stroke-width="0.7"/><path d="M389.1 192.8L388.1 195.3" stroke="#36b414" stroke-width="0.7"/><path d="M388.1 195.3L387.1 197.9" stroke="#5ccc22" stroke-width="0.7"/><path d="M389.1 192.8L391.7 196.2" stroke="#36b414" stroke-width="0.7"/><path d="M391.7 196.2L394.2 199.6" stroke="#5ccc22" stroke-width="0.7"/><path d="M396.6 194.8L395.4 197.2" stroke="#36b414" stroke-width="0.7"/><path d="M395.4 197.2L394.2 199.6" stroke="#5ccc22" stroke-width="0.7"/><path d="M352.8 198.8L352.8 205.0" stroke="#5ccc22" stroke-width="0.8"/><path d="M352.8 205.0L352.8 211.2" stroke="#36b414" stroke-width="0.8"/><path d="M359.9 201.2L359.9 207.4" stroke="#5ccc22" stroke-width="0.8"/><path d="M359.9 207.4L359.9 213.6" stroke="#36b414" stroke-width="0.8"/><path d="M366.4 197.6L366.4 203.8" stroke="#5ccc22" stroke-width="0.8"/><path d="M366.4 203.8L366.4 210.0" stroke="#36b414" stroke-width="0.8"/><path d="M373.6 199.4L373.6 205.6" stroke="#5ccc22" stroke-width="0.8"/><path d="M373.6 205.6L373.6 211.8" stroke="#36b414" stroke-width="0.8"/><path d="M380.7 201.4L380.7 207.6" stroke="#5ccc22" stroke-width="0.8"/><path d="M380.7 207.6L380.7 213.8" stroke="#36b414" stroke-width="0.8"/><path d="M387.1 197.9L387.1 204.1" stroke="#5ccc22" stroke-width="0.8"/><path d="M387.1 204.1L387.1 210.3" stroke="#36b414" stroke-width="0.8"/><path d="M394.2 199.6L394.2 205.8" stroke="#5ccc22" stroke-width="0.8"/><path d="M394.2 205.8L394.2 212.0" stroke="#36b414" stroke-width="0.8"/><path d="M352.8 211.2L351.9 214.1" stroke="#36b414" stroke-width="0.7"/><path d="M351.9 214.1L351.0 217.1" stroke="#5ccc22" stroke-width="0.7"/><path d="M359.9 213.6L355.5 215.3" stroke="#36b414" stroke-width="0.7"/><path d="M355.5 215.3L351.0 217.1" stroke="#5ccc22" stroke-width="0.7"/><path d="M359.9 213.6L362.1 214.7" stroke="#36b414" stroke-width="0.7"/><path d="M362.1 214.7L364.3 215.8" stroke="#5ccc22" stroke-width="0.7"/><path d="M366.4 210.0L365.4 212.9" stroke="#36b414" stroke-width="0.7"/><path d="M365.4 212.9L364.3 215.8" stroke="#5ccc22" stroke-width="0.7"/><path d="M366.4 210.0L368.9 213.8" stroke="#36b414" stroke-width="0.7"/><path d="M368.9 213.8L371.4 217.5" stroke="#5ccc22" stroke-width="0.7"/><path d="M373.6 211.8L372.5 214.6" stroke="#36b414" stroke-width="0.7"/><path d="M372.5 214.6L371.4 217.5" stroke="#5ccc22" stroke-width="0.7"/><path d="M373.6 211.8L375.8 213.0" stroke="#36b414" stroke-width="0.7"/><path d="M375.8 213.0L378.0 214.3" stroke="#5ccc22" stroke-width="0.7"/><path d="M380.7 213.8L379.4 214.0" stroke="#36b414" stroke-width="0.7"/><path d="M379.4 214.0L378.0 214.3" stroke="#5ccc22" stroke-width="0.7"/><path d="M380.7 213.8L382.8 214.8" stroke="#36b414" stroke-width="0.7"/><path d="M382.8 214.8L384.8 215.8" stroke="#5ccc22" stroke-width="0.7"/><path d="M387.1 210.3L382.6 212.3" stroke="#36b414" stroke-width="0.7"/><path d="M382.6 212.3L378.0 214.3" stroke="#5ccc22" stroke-width="0.7"/><path d="M387.1 210.3L386.0 213.0" stroke="#36b414" stroke-width="0.7"/><path d="M386.0 213.0L384.8 215.8" stroke="#5ccc22" stroke-width="0.7"/><path d="M387.1 210.3L389.5 213.8" stroke="#36b414" stroke-width="0.7"/><path d="M389.5 213.8L391.8 217.4" stroke="#5ccc22" stroke-width="0.7"/><path d="M394.2 212.0L393.0 214.7" stroke="#36b414" stroke-width="0.7"/><path d="M393.0 214.7L391.8 217.4" stroke="#5ccc22" stroke-width="0.7"/><circle cx="378.0" cy="163.3" r="2.45" fill="url(#gGa)" stroke="#2a8a10" stroke-width="0.7"/><circle cx="366.4" cy="159.0" r="1.95" fill="url(#gAs)" stroke="#1a7406" stroke-width="0.7"/><circle cx="387.1" cy="159.3" r="1.95" fill="url(#gAs)" stroke="#1a7406" stroke-width="0.7"/><circle cx="352.8" cy="160.2" r="1.95" fill="url(#gAs)" stroke="#1a7406" stroke-width="0.7"/><circle cx="364.3" cy="164.8" r="2.45" fill="url(#gGa)" stroke="#2a8a10" stroke-width="0.7"/><circle cx="384.8" cy="164.8" r="2.45" fill="url(#gGa)" stroke="#2a8a10" stroke-width="0.7"/><circle cx="373.6" cy="160.8" r="1.95" fill="url(#gAs)" stroke="#1a7406" stroke-width="0.7"/><circle cx="394.2" cy="161.0" r="1.95" fill="url(#gAs)" stroke="#1a7406" stroke-width="0.7"/><circle cx="351.0" cy="166.1" r="2.45" fill="url(#gGa)" stroke="#2a8a10" stroke-width="0.7"/><circle cx="391.8" cy="166.4" r="2.45" fill="url(#gGa)" stroke="#2a8a10" stroke-width="0.7"/><circle cx="371.4" cy="166.5" r="2.45" fill="url(#gGa)" stroke="#2a8a10" stroke-width="0.7"/><circle cx="359.9" cy="162.6" r="1.95" fill="url(#gAs)" stroke="#1a7406" stroke-width="0.7"/><circle cx="380.7" cy="162.8" r="1.95" fill="url(#gAs)" stroke="#1a7406" stroke-width="0.7"/><circle cx="378.0" cy="175.7" r="1.95" fill="url(#gAs)" stroke="#1a7406" stroke-width="0.7"/><circle cx="389.1" cy="180.4" r="2.45" fill="url(#gGa)" stroke="#2a8a10" stroke-width="0.7"/><circle cx="355.1" cy="181.5" r="2.45" fill="url(#gGa)" stroke="#2a8a10" stroke-width="0.7"/><circle cx="364.3" cy="177.2" r="1.95" fill="url(#gAs)" stroke="#1a7406" stroke-width="0.7"/><circle cx="384.8" cy="177.2" r="1.95" fill="url(#gAs)" stroke="#1a7406" stroke-width="0.7"/><circle cx="375.9" cy="181.8" r="2.45" fill="url(#gGa)" stroke="#2a8a10" stroke-width="0.7"/><circle cx="396.6" cy="182.4" r="2.45" fill="url(#gGa)" stroke="#2a8a10" stroke-width="0.7"/><circle cx="351.0" cy="178.5" r="1.95" fill="url(#gAs)" stroke="#1a7406" stroke-width="0.7"/><circle cx="362.3" cy="183.1" r="2.45" fill="url(#gGa)" stroke="#2a8a10" stroke-width="0.7"/><circle cx="391.8" cy="178.8" r="1.95" fill="url(#gAs)" stroke="#1a7406" stroke-width="0.7"/><circle cx="371.4" cy="178.9" r="1.95" fill="url(#gAs)" stroke="#1a7406" stroke-width="0.7"/><circle cx="382.8" cy="183.6" r="2.45" fill="url(#gGa)" stroke="#2a8a10" stroke-width="0.7"/><circle cx="369.4" cy="184.8" r="2.45" fill="url(#gGa)" stroke="#2a8a10" stroke-width="0.7"/><circle cx="389.1" cy="192.8" r="1.95" fill="url(#gAs)" stroke="#1a7406" stroke-width="0.7"/><circle cx="366.4" cy="197.6" r="2.45" fill="url(#gGa)" stroke="#2a8a10" stroke-width="0.7"/><circle cx="387.1" cy="197.9" r="2.45" fill="url(#gGa)" stroke="#2a8a10" stroke-width="0.7"/><circle cx="355.1" cy="193.9" r="1.95" fill="url(#gAs)" stroke="#1a7406" stroke-width="0.7"/><circle cx="375.9" cy="194.2" r="1.95" fill="url(#gAs)" stroke="#1a7406" stroke-width="0.7"/><circle cx="352.8" cy="198.8" r="2.45" fill="url(#gGa)" stroke="#2a8a10" stroke-width="0.7"/><circle cx="396.6" cy="194.8" r="1.95" fill="url(#gAs)" stroke="#1a7406" stroke-width="0.7"/><circle cx="373.6" cy="199.4" r="2.45" fill="url(#gGa)" stroke="#2a8a10" stroke-width="0.7"/><circle cx="394.2" cy="199.6" r="2.45" fill="url(#gGa)" stroke="#2a8a10" stroke-width="0.7"/><circle cx="362.3" cy="195.5" r="1.95" fill="url(#gAs)" stroke="#1a7406" stroke-width="0.7"/><circle cx="382.8" cy="196.0" r="1.95" fill="url(#gAs)" stroke="#1a7406" stroke-width="0.7"/><circle cx="359.9" cy="201.2" r="2.45" fill="url(#gGa)" stroke="#2a8a10" stroke-width="0.7"/><circle cx="380.7" cy="201.4" r="2.45" fill="url(#gGa)" stroke="#2a8a10" stroke-width="0.7"/><circle cx="369.4" cy="197.2" r="1.95" fill="url(#gAs)" stroke="#1a7406" stroke-width="0.7"/><circle cx="378.0" cy="214.3" r="2.45" fill="url(#gGa)" stroke="#2a8a10" stroke-width="0.7"/><circle cx="366.4" cy="210.0" r="1.95" fill="url(#gAs)" stroke="#1a7406" stroke-width="0.7"/><circle cx="387.1" cy="210.3" r="1.95" fill="url(#gAs)" stroke="#1a7406" stroke-width="0.7"/><circle cx="352.8" cy="211.2" r="1.95" fill="url(#gAs)" stroke="#1a7406" stroke-width="0.7"/><circle cx="364.3" cy="215.8" r="2.45" fill="url(#gGa)" stroke="#2a8a10" stroke-width="0.7"/><circle cx="384.8" cy="215.8" r="2.45" fill="url(#gGa)" stroke="#2a8a10" stroke-width="0.7"/><circle cx="373.6" cy="211.8" r="1.95" fill="url(#gAs)" stroke="#1a7406" stroke-width="0.7"/><circle cx="394.2" cy="212.0" r="1.95" fill="url(#gAs)" stroke="#1a7406" stroke-width="0.7"/><circle cx="351.0" cy="217.1" r="2.45" fill="url(#gGa)" stroke="#2a8a10" stroke-width="0.7"/><circle cx="391.8" cy="217.4" r="2.45" fill="url(#gGa)" stroke="#2a8a10" stroke-width="0.7"/><circle cx="371.4" cy="217.5" r="2.45" fill="url(#gGa)" stroke="#2a8a10" stroke-width="0.7"/><circle cx="359.9" cy="213.6" r="1.95" fill="url(#gAs)" stroke="#1a7406" stroke-width="0.7"/><circle cx="380.7" cy="213.8" r="1.95" fill="url(#gAs)" stroke="#1a7406" stroke-width="0.7"/></g>
<g stroke="#111" stroke-width="0.8" fill="none">
<path d="M352.8 42.400000000000006V46.400000000000006M366.2 42.400000000000006V46.400000000000006M352.8 44.2H366.2"/>
<path d="M351.0 100.4V104.4M364.2 100.4V104.4M351.0 102.2H364.2"/>
<path d="M352.6 155.0V159.0M366.4 155.0V159.0M352.6 156.8H366.4"/>
<path d="M397.6 49.8H406.1M397.6 69.0H406.1M401.6 50.8V68.0"/><path d="M401.6 50.199999999999996l-1.2 3h2.4zM401.6 68.6l-1.2 -3h2.4z" fill="#111" stroke="none"/>
<path d="M398.2 104.2H406.7M398.2 123.0H406.7M402.2 105.2V122.0"/><path d="M402.2 104.60000000000001l-1.2 3h2.4zM402.2 122.6l-1.2 -3h2.4z" fill="#111" stroke="none"/>
<path d="M397.8 159.6H406.3M397.8 178.8H406.3M401.8 160.6V177.8"/><path d="M401.8 160.0l-1.2 3h2.4zM401.8 178.4l-1.2 -3h2.4z" fill="#111" stroke="none"/>
</g>
<g font-family="Liberation Sans, Arial, sans-serif" font-weight="bold" font-size="7.9" fill="#111">
<text x="347.6" y="40.9">4.58 Å</text>
<text x="347.6" y="99.1">4.58 Å</text>
<text x="347.6" y="153.8">4.00 Å</text>
<text x="405.0" y="62.0">3.74 Å</text>
<text x="405.6" y="115.8">3.74 Å</text>
<text x="405.0" y="172.2">3.26 Å</text>
</g>
<g font-family="Liberation Sans, Arial, sans-serif" font-weight="bold" font-size="8.7" fill="#111" stroke="#111" stroke-width="0.15">
<text x="406.8" y="80.6">InSb (111)</text>
<text x="403.5" y="136.4">CdTe (111)</text>
<text x="403.5" y="197.2">GaAs (111)</text>
</g>
<g font-family="Liberation Sans, Arial, sans-serif" font-weight="bold" font-size="8.8" fill="#111">
<circle cx="315.0" cy="142.6" r="2.42" fill="url(#gIn)" stroke="#a40a9c" stroke-width="0.7"/>
<text x="323.6" y="144.1">In</text>
<circle cx="315.0" cy="155.4" r="2.05" fill="url(#gSb)" stroke="#5a4e0c" stroke-width="0.7"/>
<text x="323.6" y="157.1">Sb</text>
<circle cx="315.0" cy="168.6" r="2.42" fill="url(#gCd)" stroke="#8e2e86" stroke-width="0.7"/>
<text x="323.6" y="170.1">Cd</text>
<circle cx="315.0" cy="181.4" r="2.05" fill="url(#gTe)" stroke="#8a3404" stroke-width="0.7"/>
<text x="323.6" y="183.1">Te</text>
<circle cx="315.0" cy="194.6" r="2.57" fill="url(#gGa)" stroke="#2a8a10" stroke-width="0.7"/>
<text x="323.6" y="196.1">Ga</text>
<circle cx="315.0" cy="207.4" r="2.05" fill="url(#gAs)" stroke="#1a7406" stroke-width="0.7"/>
<text x="323.6" y="209.1">As</text>
</g>
</svg></body></html>
